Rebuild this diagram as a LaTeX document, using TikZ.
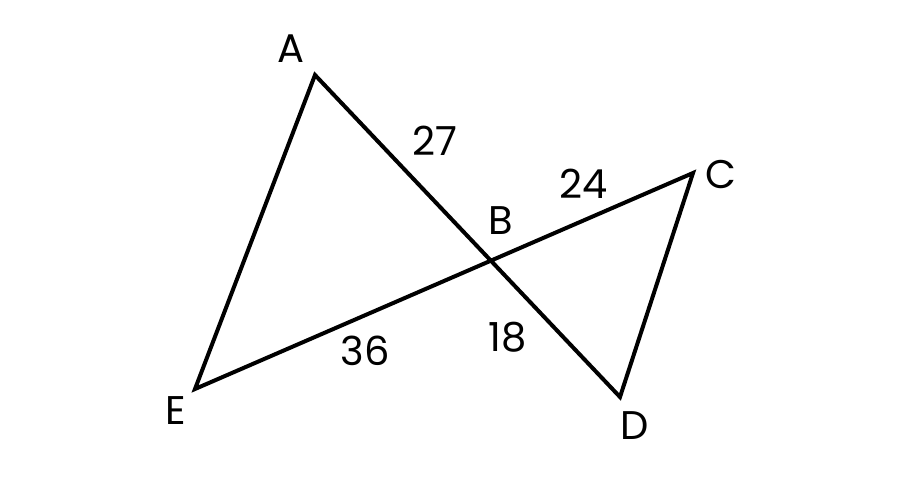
\documentclass[tikz,border=0pt]{standalone}
\usepackage{fontspec}
\setmainfont{Poppins}
\usetikzlibrary{intersections}

\begin{document}
\begin{tikzpicture}[x=0.75pt,y=-0.75pt]
\useasboundingbox (0,0) rectangle (917,502);

\coordinate (A) at (315,75);
\coordinate (C) at (693,173);
\coordinate (D) at (620,397);
\coordinate (E) at (195,389);
\path[name path=ad] (A) -- (D);
\path[name path=ec] (E) -- (C);
\path[name intersections={of=ad and ec,by=B}];

\draw[black,line width=3pt,line join=miter] 
(A) -- (D) -- (C) -- (E) -- cycle;

% vertex names
\foreach \Nm/\Xc/\Yc in {A/291/49,B/501/221,C/721/175,D/635/426,E/176/411}
{
  \node[font=\fontsize{30}{36}\selectfont] (lbl\Nm) at (\Xc,\Yc) {\Nm};
}

% segment lengths
\foreach \Nm/\Xc/\Yc/\Texto in {ab/435/141/27,bc/584/184/24,eb/365/351/36,bd/508/337/18}
{
  \node[font=\fontsize{30}{36}\selectfont] (len\Nm) at (\Xc,\Yc) {\Texto};
}
\end{tikzpicture}
\end{document}
